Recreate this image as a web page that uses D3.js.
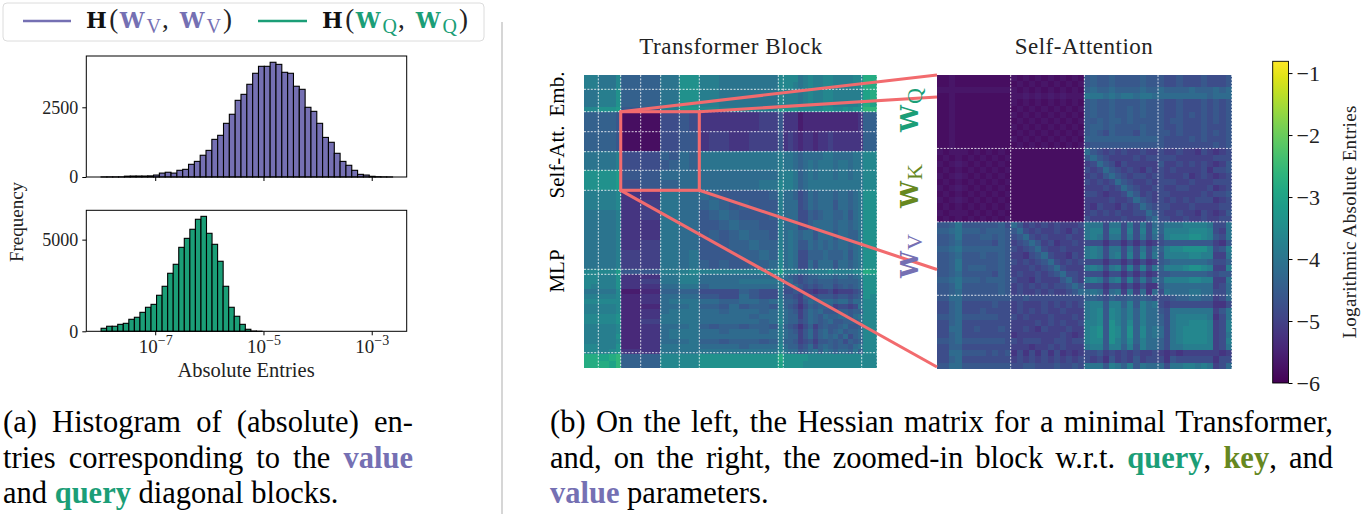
<!DOCTYPE html>
<html><head><meta charset="utf-8">
<script src="https://cdn.jsdelivr.net/npm/d3@7"></script>
<style>
html,body{margin:0;padding:0;background:#fff}
svg{display:block}
text{font-family:"Liberation Serif",serif}
</style></head><body><svg id="c" width="1361" height="516"></svg>
<script>
// ---------- Histogram data (counts per log-spaced bin) ----------
const valueBinStart = -8, valueBinWidth = 0.1077;
const valueCounts = [3,4,4,5,30,35,35,35,40,70,140,170,140,240,275,455,560,780,955,1350,1495,1925,2250,2750,2965,3325,3720,3970,3970,4115,4040,3755,3720,3255,3145,2500,2355,1925,1420,1245,850,560,420,240,95,70,25,10,4,2];
const queryBinStart = -8, queryBinWidth = 0.1025;
const queryCounts = [165,275,275,380,435,655,765,1035,1310,1470,1965,2455,3165,3655,4580,5070,5565,6110,6270,5345,4745,3820,2455,1310,820,380,110,15,4];
const xTickExps = [-7,-5,-3];
const valueYTicks = [0,2500];
const queryYTicks = [0,5000];

// ---------- Heat-map data: lower triangles, base-36 digit d means log10 value -6 + 0.2*d ("+" means -5.7) ----------
const blockEdges = [0,7,14,25,32,36.7,46,56,66,76,85,95,105,115.3,125,135,145,155,165,175,185,194.3,199.3,204,209,214,219,224,229,234,239,244,249,254,259,264,269,274,279,286,293];
const blockLines = [14.3,36.7,56.7,76.7,95.3,115.3,194.3,199.3,277.7,293];
const blockRows = [
"b","bb","aab","aabb","ccdde",
"888871","8888711","88887111","888871111",
"aaaab66668","aaaab666678",
"dddde77779999".slice(0,12),"dddde66778899",
"bbbbc4444aa999",
"bbbbc4455aa9989",
"aaaab4455aa99789",
"aaaab4444aa997789",
"aaaab4444aa9978789",
"aaaab4455aa99777889",
"aaaab5555aa9a7777889",
"aaaab5555aa9a87877889",
"cccce7777bbbcbbbbbbccf",
"ccbbd4444aabb99999999b9",
"ccbbd4455aabb9999aaaab89",
"cbbbd444499aa89999999b779",
"aaaac2233888866668766a6676",
"bbbbc3344999977669766a77658",
"ccccc33449aaa99889989b887579",
"bbbbc3333999a88797887b8764687",
"bbbbc33449aaa99899989b98757989",
"ccccd3344aaaa99999899b988579879",
"ccccd3355aaaa99999989c9886798789",
"bbbbc3344999a87887887b87646857877",
"bbbbc33449aaa99899989b987579689789",
"bbbbd33449aaa99999999b9885796898979",
"bbbbc3344999a88788878b88756757787868",
"ccbbd3344aaaa99998999c988679689878879",
"ccbcd4444aaaaaaaaaaaaca99789a8a98998a8",
"ggfgh8888ccccddddddddgdddddcccccccccccc",
"gggfh8888ccccddddddddfddddcccccccccccccc"
];
const attentionCells = 48;
const attentionLines = [12,24,36,48];
const attentionRows = [
"1","11","+++","11+1","11+11","11+111","11+1111","11+11111","11+111111","11+1111111","11+11111111","11+111111111",
"+1+++1+1+1+1"+"1","1+1+1+1+1+1+"+"11","+1+2+1+1+1+1"+"111","1+1+1+1+1+1+"+"1111","+1+2+1+1+1+1"+"11111","1+1+1+1+1+1+"+"111111","+1+2+1+1+1+1"+"1111111","1+1+1+1+1+1+"+"11111111","+1+2+1+1+1+1"+"111111111","1+1+1+1+1+1+"+"1111111111","+1+++1+1+1+1"+"11111111111","1+1+1+1+1+1+"+"111111111111",
"778a77777786"+"975656565556"+"a",
"889a88878887"+"796565565465"+"ab",
"778a77788787"+"679656555655"+"aba",
"778977777687"+"567975645565"+"6664",
"889a88888887"+"656796556555"+"aba6a",
"778977787787"+"554679655465"+"aba6ab",
"778a77777787"+"656567965656"+"6664664",
"778a78887787"+"555656796555"+"aba6ab6b",
"778977777687"+"565565679665"+"666466464",
"889a88878887"+"655465557965"+"aba6ab6b6a",
"778a77777787"+"565656566797"+"66646646464",
"778977777787"+"565565655679"+"9a959a5a5949",
"779977777777"+"667666666666"+"887687787876"+"6",
"668966666766"+"565556565656"+"abb7bb8b7b9a"+"65",
"668966676666"+"565656556555"+"abc7cb9b8b99"+"76a",
"778977777766"+"656555655565"+"abc7cb9b8b99"+"86ab",
"668966666666"+"555565656556"+"bbc7db9c8b99"+"86abb",
"669966766676"+"556546555655"+"bcd7dc9d8c9a"+"96abcc",
"668966666666"+"455555556545"+"bcd7dc9d8c9a"+"96abccc",
"778977777776"+"656665566566"+"bcc7db9c8b99"+"86abcccc",
"668866666666"+"555455656555"+"abb7bb8b7b99"+"86aabbbbb",
"669977776767"+"464646464545"+"667565656556"+"5454555555",
"668966666666"+"565656565656"+"656475657566"+"64766666646",
"779977777777"+"667766676676"+"aaa7ba8b7a99"+"96aabbaba569"
];
const colorDomain = [-6,-0.81];
const colorTicks = [-1,-2,-3,-4,-5,-6];

// ---------- Text ----------
const panelTitles = ["Transformer Block","Self-Attention"];
const colors = {value:"#7570b3",query:"#1b9e77",key:"#66881f",link:"#f26b6e"};

const svg = d3.select("#c");
const SERIF = '"Liberation Serif",serif', MATH='"DejaVu Serif",serif';
const minus = "\u2212";

// ---------- Legend ----------
svg.append("rect").attr("x",3).attr("y",3).attr("width",481).attr("height",38).attr("rx",4)
  .attr("fill","#fff").attr("stroke","#dcdcdc").attr("stroke-width",1);
function hTerm(x,sub,col){
  const t=svg.append("text").attr("x",x).attr("y",28).attr("fill","#111");
  const b=(s,c,dx)=>t.append("tspan").attr("font-family",MATH).attr("font-weight","bold").attr("font-size",22).attr("fill",c).attr("dx",dx).text(s);
  const r=(s,dx,dy)=>t.append("tspan").attr("font-size",27).attr("fill","#222").attr("dx",dx).attr("dy",dy).text(s);
  const u=(dy)=>t.append("tspan").attr("font-size",20).attr("fill",col).attr("dx",2).attr("dy",dy).text(sub);
  b("H","#111",0); r("(",2.5,0); b("W",col,1.5); u(5); r(",",1,-5); b("W",col,11); u(5); r(")",2,-5);
}
svg.append("line").attr("x1",23).attr("x2",71).attr("y1",21).attr("y2",21).attr("stroke",colors.value).attr("stroke-width",2.4);
svg.append("line").attr("x1",258).attr("x2",307).attr("y1",21).attr("y2",21).attr("stroke",colors.query).attr("stroke-width",2.4);
hTerm(86,"V",colors.value);
hTerm(322,"Q",colors.query);

// ---------- Histograms ----------
const x = d3.scaleLog().domain([10**-8.273,10**-2.354]).range([86.3,406.7]);
function hist(counts,start,width,top,bottom,maxY,ticks,fill,labels){
  const y=d3.scaleLinear().domain([0,maxY]).range([bottom,top]);
  const g=svg.append("g");
  g.selectAll("rect.bar").data(counts).join("rect").attr("class","bar")
    .attr("x",(d,i)=>x(10**(start+i*width)))
    .attr("width",(d,i)=>x(10**(start+(i+1)*width))-x(10**(start+i*width)))
    .attr("y",d=>y(d)).attr("height",d=>y(0)-y(d))
    .attr("fill",fill).attr("stroke","#000").attr("stroke-width",1.1);
  g.append("rect").attr("x",86.3).attr("y",top).attr("width",320.4).attr("height",bottom-top)
    .attr("fill","none").attr("stroke","#000").attr("stroke-width",1);
  const ya=g.append("g").attr("transform","translate(86.3,0)")
    .call(d3.axisLeft(y).tickValues(ticks).tickSize(4).tickPadding(4).tickFormat(d3.format("d")));
  ya.select(".domain").remove();
  ya.selectAll("text").attr("font-size",18).attr("font-family",SERIF).attr("fill","#222");
  const xa=g.append("g").attr("transform",`translate(0,${bottom})`)
    .call(d3.axisBottom(x).tickValues(xTickExps.map(e=>10**e)).tickSize(4).tickPadding(6).tickFormat(d=>""));
  xa.select(".domain").remove();
  if(labels){
    xa.selectAll(".tick text").each(function(d,i){
      const t=d3.select(this).attr("font-family",SERIF).attr("fill","#222").attr("font-size",19).attr("y",22).attr("dy",0);
      t.append("tspan").text("10");
      t.append("tspan").attr("font-size",14).attr("dy",-8).text(minus+Math.abs(xTickExps[i]));
    });
  }
}
hist(valueCounts,valueBinStart,valueBinWidth,56,177,4340,valueYTicks,colors.value,false);
hist(queryCounts,queryBinStart,queryBinWidth,210.3,331.3,6600,queryYTicks,colors.query,true);
svg.append("text").attr("transform","translate(23,222) rotate(-90)").attr("text-anchor","middle")
  .attr("font-size",19).attr("fill","#222").text("Frequency");
svg.append("text").attr("x",246).attr("y",376.5).attr("text-anchor","middle")
  .attr("font-size",20.5).attr("fill","#222").text("Absolute Entries");

// ---------- Heat maps ----------
const color = d3.scaleSequential(d3.interpolateViridis).domain(colorDomain);
const decode = ch => ch==="+" ? -5.7 : -6 + 0.2*parseInt(ch,36);
const sym = (rows,i,j)=> decode(rows[Math.max(i,j)][Math.min(i,j)]);

const bx = d3.scaleLinear().domain([0,293]).range([584,877]);
const by = d3.scaleLinear().domain([0,293]).range([75,368]);
const blockCells = d3.cross(d3.range(blockEdges.length-1),d3.range(blockEdges.length-1));
svg.append("g").attr("shape-rendering","crispEdges").selectAll("rect").data(blockCells).join("rect")
  .attr("x",d=>bx(blockEdges[d[1]])).attr("y",d=>by(blockEdges[d[0]]))
  .attr("width",d=>bx(blockEdges[d[1]+1])-bx(blockEdges[d[1]]))
  .attr("height",d=>by(blockEdges[d[0]+1])-by(blockEdges[d[0]]))
  .attr("fill",d=>color(sym(blockRows,d[0],d[1])));
const gridStyle=s=>s.attr("stroke","#fff").attr("stroke-width",0.9).attr("stroke-dasharray","2 1.4").attr("opacity",0.9);
svg.append("g").selectAll("line").data(blockLines).join("line")
  .attr("x1",d=>bx(d)).attr("x2",d=>bx(d)).attr("y1",by(0)).attr("y2",by(293)).call(gridStyle);
svg.append("g").selectAll("line").data(blockLines.slice(0,-1)).join("line")
  .attr("y1",d=>by(d)).attr("y2",d=>by(d)).attr("x1",bx(0)).attr("x2",bx(293)).call(gridStyle);

const ax = d3.scaleBand().domain(d3.range(attentionCells)).range([937,1231.7]);
const ay = d3.scaleBand().domain(d3.range(attentionCells)).range([75,368.7]);
const attCells = d3.cross(d3.range(attentionCells),d3.range(attentionCells));
svg.append("g").attr("shape-rendering","crispEdges").selectAll("rect").data(attCells).join("rect")
  .attr("x",d=>ax(d[1])).attr("y",d=>ay(d[0])).attr("width",ax.bandwidth()+0.3).attr("height",ay.bandwidth()+0.3)
  .attr("fill",d=>color(sym(attentionRows,d[0],d[1])));
const ap=(s,i)=>s(0)+i*s.step();
svg.append("g").selectAll("line").data(attentionLines).join("line")
  .attr("x1",d=>ap(ax,d)).attr("x2",d=>ap(ax,d)).attr("y1",75).attr("y2",368.7).call(gridStyle);
svg.append("g").selectAll("line").data(attentionLines.slice(0,-1)).join("line")
  .attr("y1",d=>ap(ay,d)).attr("y2",d=>ap(ay,d)).attr("x1",937).attr("x2",1231.7).call(gridStyle);

// zoom call-out
const rx0=bx(36.7),rx1=bx(115.3),ry0=by(36.7),ry1=by(115.3);
const link=[[rx0,ry0,937,75],[rx1,ry0,937,97],[rx1,ry1,937,269.5],[rx0,ry1,937,367]];
svg.append("g").selectAll("line").data(link).join("line")
  .attr("x1",d=>d[0]).attr("y1",d=>d[1]).attr("x2",d=>d[2]).attr("y2",d=>d[3])
  .attr("stroke",colors.link).attr("stroke-width",3.1);
svg.append("rect").attr("x",rx0).attr("y",ry0).attr("width",rx1-rx0).attr("height",ry1-ry0)
  .attr("fill","none").attr("stroke",colors.link).attr("stroke-width",3.1);

// titles
svg.append("text").attr("x",731).attr("y",54).attr("text-anchor","middle").attr("font-size",23).attr("fill","#222").attr("letter-spacing",0.5).text(panelTitles[0]);
svg.append("text").attr("x",1084).attr("y",54).attr("text-anchor","middle").attr("font-size",23).attr("fill","#222").attr("letter-spacing",0.5).text(panelTitles[1]);

// section labels
function vtext(x,y,s){svg.append("text").attr("transform",`translate(${x},${y}) rotate(-90)`).attr("text-anchor","middle").attr("font-size",21).attr("fill","#000").text(s);}
vtext(564,94,"Emb.");vtext(564,162,"Self-Att.");vtext(564,271,"MLP");

// W labels
function wlabel(y,sub,col){
  const t=svg.append("text").attr("transform",`translate(918,${y}) rotate(-90)`).attr("text-anchor","middle").attr("fill",col);
  t.append("tspan").attr("font-family",MATH).attr("font-weight","bold").attr("font-size",24).text("W");
  t.append("tspan").attr("font-size",22).attr("dy",4).attr("dx",1).text(sub);
}
wlabel(110,"Q",colors.query);wlabel(186,"K",colors.key);wlabel(256,"V",colors.value);

// ---------- Colour bar ----------
const cy=d3.scaleLinear().domain(colorDomain).range([383,61.3]);
const defs=svg.append("defs");
const grad=defs.append("linearGradient").attr("id","vir").attr("x1",0).attr("y1",1).attr("x2",0).attr("y2",0);
d3.range(0,1.0001,0.05).forEach(t=>grad.append("stop").attr("offset",t).attr("stop-color",d3.interpolateViridis(t)));
svg.append("rect").attr("x",1272.7).attr("y",61.3).attr("width",15.8).attr("height",321.7).attr("fill","url(#vir)").attr("stroke","#000").attr("stroke-width",0.9);
const ca=svg.append("g").attr("transform","translate(1288.5,0)")
  .call(d3.axisRight(cy).tickValues(colorTicks).tickSize(4).tickPadding(4).tickFormat(d=>minus+Math.abs(d)));
ca.select(".domain").remove();
ca.selectAll("text").attr("font-size",22).attr("font-family",SERIF).attr("fill","#222");
svg.append("text").attr("transform","translate(1356,222) rotate(-90)").attr("text-anchor","middle")
  .attr("font-size",19).attr("fill","#222").attr("letter-spacing",0.3).text("Logarithmic Absolute Entries");

// ---------- Divider ----------
svg.append("line").attr("x1",502).attr("x2",502).attr("y1",22).attr("y2",514).attr("stroke","#c8c8c8").attr("stroke-width",1.5);

// ---------- Captions ----------
function caption(x,y,parts,target){
  const t=svg.append("text").attr("x",x).attr("y",y).attr("font-size",30.5).attr("fill","#000");
  parts.forEach(p=>{const s=t.append("tspan").text(p[0]); if(p[1]){s.attr("font-weight","bold").attr("fill",p[1]);}});
  if(target){
    const str=parts.map(p=>p[0]).join("");
    const n=(str.match(/ /g)||[]).length;
    const w=t.node().getComputedTextLength();
    t.attr("word-spacing",(target-w)/n);
  }
}
caption(3,432,[["(a) Histogram of (absolute) en-"]],410);
caption(3,468,[["tries corresponding to the "],["value",colors.value]],410);
caption(3,503,[["and "],["query",colors.query],[" diagonal blocks."]]);
caption(550,432,[["(b) On the left, the Hessian matrix for a minimal Transformer,"]],783);
caption(550,468,[["and, on the right, the zoomed-in block w.r.t. "],["query",colors.query],[", "],["key",colors.key],[", and"]],783);
caption(550,503,[["value",colors.value],[" parameters."]]);
</script></body></html>
